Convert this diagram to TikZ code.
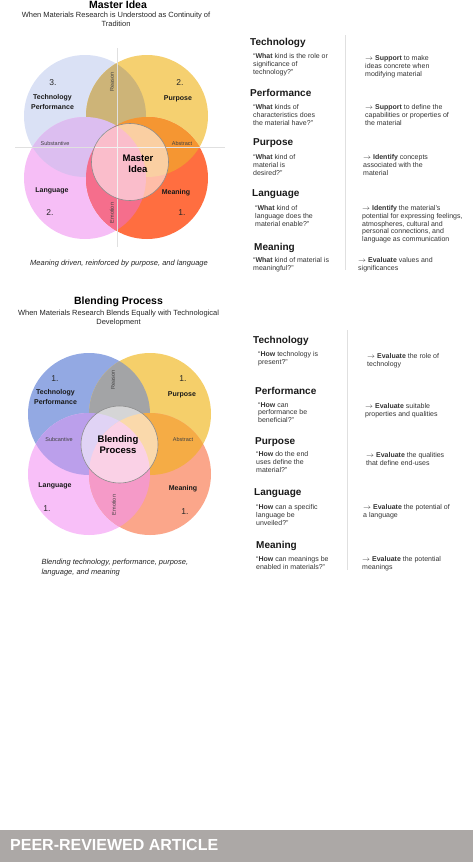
\documentclass[tikz,border=0pt]{standalone}
\usepackage{fontspec}
\setmainfont{Liberation Sans}
\usetikzlibrary{positioning}

\definecolor{mTech}{HTML}{DAE1F5}
\definecolor{mPurp}{HTML}{F5D070}
\definecolor{mLang}{HTML}{F6BEF6}
\definecolor{mMean}{HTML}{FF6E40}
\definecolor{mReason}{HTML}{CDB478}
\definecolor{mSubst}{HTML}{DCBEF0}
\definecolor{mAbstr}{HTML}{F59632}
\definecolor{mEmot}{HTML}{F56E8C}
\definecolor{bTech}{HTML}{93A9E3}
\definecolor{bPurp}{HTML}{F5CF6A}
\definecolor{bLang}{HTML}{F8BFF8}
\definecolor{bMean}{HTML}{FBA68A}
\definecolor{bReason}{HTML}{A3A4A6}
\definecolor{bSubst}{HTML}{BB9FEB}
\definecolor{bAbstr}{HTML}{F5AC45}
\definecolor{bEmot}{HTML}{F59AC8}
\definecolor{bannergray}{HTML}{ACA8A6}

\newcommand{\goesto}{$\rightarrow$}

\tikzstyle{ring} = [fill=white, fill opacity=0.55, draw=black!45, line width=0.6pt]
\tikzstyle{rule} = [draw=black!12, line width=0.6pt]
\tikzset{
	title/.style={font=\fontsize{10.5}{12}\selectfont\bfseries},
	subtitle/.style={font=\fontsize{7.5}{9}\selectfont, align=center, text=black!85},
	caption/.style={font=\fontsize{7.5}{10}\selectfont\itshape, text=black!85},
	field/.style={font=\fontsize{7}{10}\selectfont\bfseries, align=center, text=black!90},
	rank/.style={font=\fontsize{8.5}{10}\selectfont, text=black!85},
	zone/.style={font=\fontsize{5.5}{6}\selectfont, text=black!75},
	core/.style={font=\fontsize{9.5}{11}\selectfont\bfseries, align=center},
	head/.style={font=\fontsize{10}{12}\selectfont\bfseries, anchor=west, inner sep=0pt, text=black!90},
	quest/.style={font=\fontsize{7}{7.9}\selectfont, anchor=north west, align=left, inner sep=0pt, text=black!80},
}

\begin{document}
\begin{tikzpicture}[x=1pt,y=-1pt]
\useasboundingbox (0,0) rectangle (474,862);

%master idea
\coordinate (mtl) at (85,116);
\coordinate (mtr) at (147,116);
\coordinate (mbl) at (85,178);
\coordinate (mbr) at (147,178);
\coordinate (mcore) at (130,162);

\fill[mTech] (mtl) circle (61pt);
\fill[mPurp] (mtr) circle (61pt);
\fill[mLang] (mbl) circle (61pt);
\fill[mMean] (mbr) circle (61pt);
\begin{scope} \clip (mtl) circle (61pt); \fill[mReason] (mtr) circle (61pt); \end{scope}
\begin{scope} \clip (mtl) circle (61pt); \fill[mSubst] (mbl) circle (61pt); \end{scope}
\begin{scope} \clip (mtr) circle (61pt); \fill[mAbstr] (mbr) circle (61pt); \end{scope}
\begin{scope} \clip (mbl) circle (61pt); \fill[mEmot] (mbr) circle (61pt); \end{scope}

\coordinate (maxN) at (117,48);
\coordinate (maxS) at (117,247);
\coordinate (maxW) at (15,147);
\coordinate (maxE) at (225,147);
\path [rule] (maxN) -- (maxS);
\path [rule] (maxW) -- (maxE);
\filldraw[ring] (mcore) circle (38.5pt);

\node [title] at (118,4.5) (mtitle) {Master Idea};
\node [subtitle] at (116,19.5) (msub) {When Materials Research is Understood as Continuity of\\Tradition};

\node [rank] at (53,83) (mtechno) {3.};
\node [field] at (52.5,102) (mtech) {Technology\\Performance};
\node [rank] at (180,83) (mpurpno) {2.};
\node [field] at (178,99) (mpurp) {Purpose};
\node [field] at (52,191) (mlang) {Language};
\node [rank] at (50,213) (mlangno) {2.};
\node [field] at (176,193) (mmean) {Meaning};
\node [rank] at (182,213) (mmeanno) {1.};
\node [zone, rotate=90] at (112,82) (mreason) {Reason};
\node [zone] at (55,144) (msubst) {Substantive};
\node [zone] at (182,144) (mabstr) {Abstract};
\node [zone, rotate=90] at (112,213) (memot) {Emotion};
\node [core] at (138,163.5) (mcoretext) {Master\\Idea};

\node [caption] at (119,264) (mcap) {Meaning driven, reinforced by purpose, and language};

%questions, master idea
\coordinate (mcolN) at (345,35);
\coordinate (mcolS) at (345,270);
\path [rule] (mcolN) -- (mcolS);

\node [head] at (250,43) (mqtech) {Technology};
\node [quest] at (253,53) (mqtechq) {“\textbf{What} kind is the role or\\significance of\\technology?”};
\node [quest] at (365,55) (mqtecha) {\goesto{} \textbf{Support} to make\\ideas concrete when\\modifying material};

\node [head] at (250,93) (mqperf) {Performance};
\node [quest] at (253,104) (mqperfq) {“\textbf{What} kinds of\\characteristics does\\the material have?”};
\node [quest] at (365,104) (mqperfa) {\goesto{} \textbf{Support} to define the\\capabilities or properties of\\the material};

\node [head] at (253,143) (mqpurp) {Purpose};
\node [quest] at (253,154) (mqpurpq) {“\textbf{What} kind of\\material is\\desired?”};
\node [quest] at (363,154) (mqpurpa) {\goesto{} \textbf{Identify} concepts\\associated with the\\material};

\node [head] at (252,194) (mqlang) {Language};
\node [quest] at (255,205) (mqlangq) {“\textbf{What} kind of\\language does the\\material enable?”};
\node [quest] at (362,205) (mqlanga) {\goesto{} \textbf{Identify} the material’s\\potential for expressing feelings,\\atmospheres, cultural and\\personal connections, and\\language as communication};

\node [head] at (254,248) (mqmean) {Meaning};
\node [quest] at (253,257) (mqmeanq) {“\textbf{What} kind of material is\\meaningful?”};
\node [quest] at (358,257) (mqmeana) {\goesto{} \textbf{Evaluate} values and\\significances};

%blending process
\coordinate (btl) at (89,414);
\coordinate (btr) at (150,414);
\coordinate (bbl) at (89,474);
\coordinate (bbr) at (150,474);
\coordinate (bcore) at (119.5,444.5);

\fill[bTech] (btl) circle (61pt);
\fill[bPurp] (btr) circle (61pt);
\fill[bLang] (bbl) circle (61pt);
\fill[bMean] (bbr) circle (61pt);
\begin{scope} \clip (btl) circle (61pt); \fill[bReason] (btr) circle (61pt); \end{scope}
\begin{scope} \clip (btl) circle (61pt); \fill[bSubst] (bbl) circle (61pt); \end{scope}
\begin{scope} \clip (btr) circle (61pt); \fill[bAbstr] (bbr) circle (61pt); \end{scope}
\begin{scope} \clip (bbl) circle (61pt); \fill[bEmot] (bbr) circle (61pt); \end{scope}
\filldraw[ring] (bcore) circle (38.5pt);

\node [title] at (118.5,302) (btitle) {Blending Process};
\node [subtitle] at (118.5,318) (bsub) {When Materials Research Blends Equally with Technological\\Development};

\node [rank] at (55,379) (btechno) {1.};
\node [field] at (55.5,397) (btech) {Technology\\Performance};
\node [rank] at (183,379) (bpurpno) {1.};
\node [field] at (182,395) (bpurp) {Purpose};
\node [field] at (55,486) (blang) {Language};
\node [rank] at (47,509) (blangno) {1.};
\node [field] at (183,489) (bmean) {Meaning};
\node [rank] at (185,512) (bmeanno) {1.};
\node [zone, rotate=90] at (113,380) (breason) {Reason};
\node [zone] at (59,440) (bsubst) {Subcantive};
\node [zone] at (183,440) (babstr) {Abstract};
\node [zone, rotate=90] at (114,505) (bemot) {Emotion};
\node [core] at (118,444.5) (bcoretext) {Blending\\Process};

\node [caption, align=left, anchor=west] at (38,568) (bcap) {Blending technology, performance, purpose,\\language, and meaning};

%questions, blending process
\coordinate (bcolN) at (347,330);
\coordinate (bcolS) at (347,570);
\path [rule] (bcolN) -- (bcolS);

\node [head] at (253,341) (bqtech) {Technology};
\node [quest] at (258,351) (bqtechq) {“\textbf{How} technology is\\present?”};
\node [quest] at (367,353) (bqtecha) {\goesto{} \textbf{Evaluate} the role of\\technology};

\node [head] at (255,391) (bqperf) {Performance};
\node [quest] at (258,402) (bqperfq) {“\textbf{How} can\\performance be\\beneficial?”};
\node [quest] at (365,403) (bqperfa) {\goesto{} \textbf{Evaluate} suitable\\properties and qualities};

\node [head] at (255,442) (bqpurp) {Purpose};
\node [quest] at (256,451) (bqpurpq) {“\textbf{How} do the end\\uses define the\\material?”};
\node [quest] at (366,452) (bqpurpa) {\goesto{} \textbf{Evaluate} the qualities\\that define end-uses};

\node [head] at (254,493) (bqlang) {Language};
\node [quest] at (256,504) (bqlangq) {“\textbf{How} can a specific\\language be\\unveiled?”};
\node [quest] at (363,504) (bqlanga) {\goesto{} \textbf{Evaluate} the potential of\\a language};

\node [head] at (256,546) (bqmean) {Meaning};
\node [quest] at (256,556) (bqmeanq) {“\textbf{How} can meanings be\\enabled in materials?”};
\node [quest] at (362,556) (bqmeana) {\goesto{} \textbf{Evaluate} the potential\\meanings};

%banner
\fill[bannergray] (0,830) rectangle (473,862);
\node [font=\fontsize{16}{18}\selectfont\bfseries, text=white, anchor=west, inner sep=0pt] at (10,845) (peer) {PEER-REVIEWED ARTICLE};

\end{tikzpicture}
\end{document}
